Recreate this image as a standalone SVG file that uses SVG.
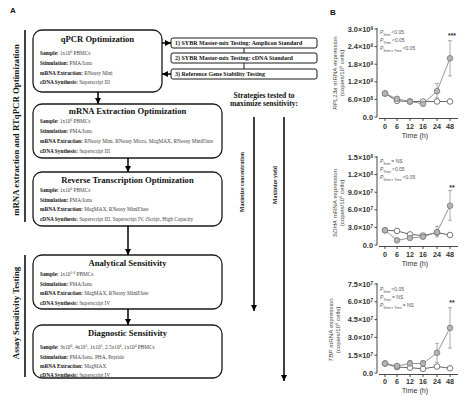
<svg xmlns="http://www.w3.org/2000/svg" width="474" height="402" viewBox="0 0 474 402">
<style>
.box{fill:#fff;stroke:#1a1a1a;stroke-width:1.3}
.sbox{fill:#fff;stroke:#1a1a1a;stroke-width:1}
.title{font-family:"Liberation Serif","Times New Roman",serif;font-weight:bold;font-size:8.6px;text-anchor:middle;fill:#111}
.body{font-family:"Liberation Serif","Times New Roman",serif;font-size:5.3px;fill:#444}
.b{font-weight:bold;fill:#111}
.sup{font-size:3.6px;baseline-shift:super}
.stxt{font-family:"Liberation Serif","Times New Roman",serif;font-weight:bold;font-size:6px;fill:#111}
.side{font-family:"Liberation Serif","Times New Roman",serif;font-weight:bold;font-size:8.8px;text-anchor:middle;fill:#111}
.strat{font-family:"Liberation Serif","Times New Roman",serif;font-weight:bold;font-size:7.6px;text-anchor:middle;fill:#111}
.max{font-family:"Liberation Serif","Times New Roman",serif;font-weight:bold;font-size:5.8px;text-anchor:middle;fill:#111}
.arr{stroke:#000;stroke-width:1.5;fill:none;marker-end:url(#ah)}
.line{stroke:#000;stroke-width:1.5;fill:none}
.panel{font-family:"Liberation Sans",Arial,sans-serif;font-weight:bold;font-size:8px;fill:#111}
.ax{stroke:#333;stroke-width:0.9;fill:none}
.tick{font-family:"Liberation Sans",Arial,sans-serif;font-weight:bold;font-size:7.4px;fill:#333;text-anchor:end}
.tsup{font-size:4.6px;baseline-shift:super}
.xt{font-family:"Liberation Sans",Arial,sans-serif;font-weight:bold;font-size:7.2px;fill:#333;text-anchor:middle}
.xl{font-family:"Liberation Sans",Arial,sans-serif;font-size:7.2px;fill:#333;text-anchor:middle}
.yl{font-family:"Liberation Sans",Arial,sans-serif;font-size:6.2px;fill:#444;text-anchor:middle}
.ps{font-family:"Liberation Sans",Arial,sans-serif;font-size:5px;fill:#555}
.sub{font-size:3.5px;baseline-shift:sub}
.sig{font-family:"Liberation Sans",Arial,sans-serif;font-weight:bold;font-size:7px;fill:#333;text-anchor:middle}
.stim{stroke:#8a8a8a;stroke-width:0.9;fill:none}
.stimp{fill:#b5b5b5;stroke:#777;stroke-width:0.8}
.un{stroke:#555;stroke-width:0.9;fill:none}
.unp{fill:#fff;stroke:#555;stroke-width:0.8}
.err{stroke:#888;stroke-width:0.7;fill:none}
</style>
<defs>
<marker id="ah" markerUnits="userSpaceOnUse" markerWidth="6" markerHeight="6" viewBox="0 0 6 6" refX="6" refY="3" orient="auto">
<path d="M0,0 L6,3 L0,6 z" fill="#000"/>
</marker>
</defs>
<rect width="474" height="402" fill="#fff"/>
<text class="panel" x="10" y="13">A</text>
<text class="panel" x="330" y="15">B</text>

<g id="side-labels">
<line class="line" x1="25" y1="30" x2="25" y2="222"/>
<text class="side" transform="translate(19,130) rotate(-90)">mRNA extraction and RTqPCR Optimization</text>
<line class="line" x1="25" y1="255" x2="25" y2="377"/>
<text class="side" transform="translate(19,313) rotate(-90)">Assay Sensitivity Testing</text>
</g>

<g id="qpcr">
<rect class="box" x="33" y="30" width="129" height="62" rx="9"/>
<text class="title" x="97.5" y="41.5">qPCR Optimization</text>
<text class="body" x="40" y="55"><tspan class="b">Sample: </tspan>1x10<tspan class="sup">6</tspan> PBMCs</text>
<text class="body" x="40" y="65"><tspan class="b">Stimulation: </tspan>PMA/Iono</text>
<text class="body" x="40" y="74.5"><tspan class="b">mRNA Extraction: </tspan>RNeasy Mini</text>
<text class="body" x="40" y="84"><tspan class="b">cDNA Synthesis: </tspan>Superscript III</text>
</g>

<g id="mrna">
<rect class="box" x="33" y="104" width="189" height="54" rx="9"/>
<text class="title" x="127.5" y="114">mRNA Extraction Optimization</text>
<text class="body" x="40" y="123"><tspan class="b">Sample: </tspan>1x10<tspan class="sup">6</tspan> PBMCs</text>
<text class="body" x="40" y="133"><tspan class="b">Stimulation: </tspan>PMA/Iono</text>
<text class="body" x="40" y="142.5"><tspan class="b">mRNA Extraction: </tspan>RNeasy Mini, RNeasy Micro, MagMAX, RNeasy MiniElute</text>
<text class="body" x="40" y="152.5"><tspan class="b">cDNA Synthesis: </tspan>Superscript III</text>
</g>

<g id="rt">
<rect class="box" x="33" y="172" width="189" height="54" rx="9"/>
<text class="title" x="127.5" y="183">Reverse Transcription Optimization</text>
<text class="body" x="40" y="192"><tspan class="b">Sample: </tspan>1x10<tspan class="sup">6</tspan> PBMCs</text>
<text class="body" x="40" y="202"><tspan class="b">Stimulation: </tspan>PMA/Iono</text>
<text class="body" x="40" y="211"><tspan class="b">mRNA Extraction: </tspan>MagMAX, RNeasy MiniElute</text>
<text class="body" x="40" y="221"><tspan class="b">cDNA Synthesis: </tspan>Superscript III, Superscript IV, iScript, High Capacity</text>
</g>

<g id="analytical">
<rect class="box" x="33" y="255" width="189" height="54" rx="9"/>
<text class="title" x="127.5" y="266">Analytical Sensitivity</text>
<text class="body" x="40" y="276"><tspan class="b">Sample: </tspan>1x10<tspan class="sup">1-6</tspan> PBMCs</text>
<text class="body" x="40" y="286"><tspan class="b">Stimulation: </tspan>PMA/Iono</text>
<text class="body" x="40" y="295"><tspan class="b">mRNA Extraction: </tspan>MagMAX, RNeasy MiniElute</text>
<text class="body" x="40" y="305"><tspan class="b">cDNA Synthesis: </tspan>Superscript IV</text>
</g>

<g id="diagnostic">
<rect class="box" x="33" y="325" width="189" height="53" rx="9"/>
<text class="title" x="127.5" y="335.5">Diagnostic Sensitivity</text>
<text class="body" x="40" y="349"><tspan class="b">Sample: </tspan>3x10<tspan class="sup">6</tspan>, 4x10<tspan class="sup">5</tspan>, 1x10<tspan class="sup">5</tspan>, 2.5x10<tspan class="sup">4</tspan>, 1x10<tspan class="sup">4</tspan> PBMCs</text>
<text class="body" x="40" y="358.5"><tspan class="b">Stimulation: </tspan>PMA/Iono, PHA, Peptide</text>
<text class="body" x="40" y="368"><tspan class="b">mRNA Extraction: </tspan>MagMAX</text>
<text class="body" x="40" y="376.5"><tspan class="b">cDNA Synthesis: </tspan>Superscript IV</text>
</g>

<g id="qpcr-tests">
<rect class="sbox" x="171" y="38" width="146" height="10" rx="2"/>
<text class="stxt" x="175" y="45.2">1) SYBR Master-mix Testing: Amplicon Standard</text>
<rect class="sbox" x="171" y="53" width="146" height="10" rx="2"/>
<text class="stxt" x="175" y="60.2">2) SYBR Master-mix Testing: cDNA Standard</text>
<rect class="sbox" x="171" y="69" width="146" height="10" rx="2"/>
<text class="stxt" x="175" y="76.2">3) Reference Gene Stability Testing</text>
</g>

<g id="strategies">
<text class="strat" x="264" y="97.5">Strategies tested to</text>
<text class="strat" x="264" y="105.5">maximize sensitivity:</text>
<text class="max" transform="translate(244,182) rotate(-90)">Maximize concentration</text>
<text class="max" transform="translate(277,185) rotate(-90)">Maximize yield</text>
</g>

<g id="connectors">
<line class="arr" x1="98" y1="92" x2="98" y2="104"/>
<line class="arr" x1="128" y1="158" x2="128" y2="172"/>
<line class="arr" x1="128" y1="226" x2="128" y2="255"/>
<line class="arr" x1="128" y1="309" x2="128" y2="325"/>
<line class="arr" x1="162" y1="43" x2="171" y2="43"/>
<line class="arr" x1="171" y1="74" x2="162" y2="74"/>
<line stroke="#1a1a1a" stroke-width="1" x1="244" y1="48" x2="244" y2="53"/>
<line stroke="#1a1a1a" stroke-width="1" x1="244" y1="63" x2="244" y2="69"/>
<line class="arr" x1="254" y1="117" x2="254" y2="311"/>
<line class="arr" x1="284" y1="117" x2="284" y2="381"/>
</g>

<g id="chart-rpl13a">
<path class="ax" d="M377,28 V117 M374.5,29 H377 M374.5,46.6 H377 M374.5,64.2 H377 M374.5,81.8 H377 M374.5,99.4 H377 M374.5,117 H377"/>
<path class="ax" d="M379,118.5 H458 M385,118.5 V121 M397,118.5 V121 M410,118.5 V121 M423,118.5 V121 M437,118.5 V121 M450,118.5 V121"/>
<text class="tick" x="373" y="31.5">3.0×10<tspan class="tsup">9</tspan></text>
<text class="tick" x="373" y="49">2.4×10<tspan class="tsup">9</tspan></text>
<text class="tick" x="373" y="66.7">1.8×10<tspan class="tsup">9</tspan></text>
<text class="tick" x="373" y="84.3">1.2×10<tspan class="tsup">9</tspan></text>
<text class="tick" x="373" y="101.9">6.0×10<tspan class="tsup">8</tspan></text>
<text class="tick" x="373" y="119.5">0.0</text>
<text class="xt" x="385" y="129">0</text><text class="xt" x="397" y="129">6</text><text class="xt" x="410" y="129">12</text><text class="xt" x="423" y="129">16</text><text class="xt" x="437" y="129">24</text><text class="xt" x="450" y="129">48</text>
<text class="xl" x="415" y="137.5">Time (h)</text>
<text class="yl" transform="translate(337,73) rotate(-90)"><tspan font-style="italic">RPL13a</tspan> mRNA expression</text>
<text class="yl" transform="translate(344,73) rotate(-90)">(copies/10<tspan class="sup">6</tspan> cells)</text>
<text class="ps" x="380" y="34"><tspan font-style="italic">P</tspan><tspan class="sub">Stim</tspan><tspan dx="1" baseline-shift="0">&lt;0.05</tspan></text>
<text class="ps" x="380" y="42"><tspan font-style="italic">P</tspan><tspan class="sub">Time</tspan><tspan dx="1" baseline-shift="0">&lt;0.05</tspan></text>
<text class="ps" x="380" y="50"><tspan font-style="italic">P</tspan><tspan class="sub">Stim x Time</tspan><tspan dx="1" baseline-shift="0">&lt;0.05</tspan></text>
<text class="sig" x="452" y="38">***</text>
<path class="err" d="M450,40.7 V75.9 M448,40.7 H452 M448,75.9 H452 M437,83.3 V97.9 M435,83.3 H439 M435,97.9 H439 M423,100.9 V105.9 M421,100.9 H425 M421,105.9 H425 M397,97 V100.6 M395,97 H399 M395,100.6 H399"/>
<polyline class="un" points="385,93.5 397,100.9 410,101.5 423,101.5 437,101.5 450,101.5"/>
<polyline class="stim" points="385,93.5 397,98.8 410,101.5 423,103.8 437,91.2 450,58.3"/>
<g class="unp"><circle cx="385" cy="93.5" r="2.8"/><circle cx="397" cy="100.9" r="2.8"/><circle cx="410" cy="101.5" r="2.8"/><circle cx="423" cy="101.5" r="2.8"/><circle cx="437" cy="101.5" r="2.8"/><circle cx="450" cy="101.5" r="2.8"/></g>
<g class="stimp"><circle cx="385" cy="93.5" r="2.8"/><circle cx="397" cy="98.8" r="2.8"/><circle cx="410" cy="101.5" r="2.8"/><circle cx="423" cy="103.8" r="2.8"/><circle cx="437" cy="91.2" r="2.8"/><circle cx="450" cy="58.3" r="2.8"/></g>
</g>

<g id="chart-sdha">
<path class="ax" d="M377,156 V245 M374.5,157 H377 M374.5,174.6 H377 M374.5,192.2 H377 M374.5,209.8 H377 M374.5,227.4 H377 M374.5,245 H377"/>
<path class="ax" d="M379,246.5 H458 M385,246.5 V249 M397,246.5 V249 M410,246.5 V249 M423,246.5 V249 M437,246.5 V249 M450,246.5 V249"/>
<text class="tick" x="373" y="159.5">1.5×10<tspan class="tsup">8</tspan></text>
<text class="tick" x="373" y="177.1">1.2×10<tspan class="tsup">8</tspan></text>
<text class="tick" x="373" y="194.7">9.0×10<tspan class="tsup">7</tspan></text>
<text class="tick" x="373" y="212.3">6.0×10<tspan class="tsup">7</tspan></text>
<text class="tick" x="373" y="229.9">3.0×10<tspan class="tsup">7</tspan></text>
<text class="tick" x="373" y="247.5">0.0</text>
<text class="xt" x="385" y="257">0</text><text class="xt" x="397" y="257">6</text><text class="xt" x="410" y="257">12</text><text class="xt" x="423" y="257">16</text><text class="xt" x="437" y="257">24</text><text class="xt" x="450" y="257">48</text>
<text class="xl" x="415" y="265.5">Time (h)</text>
<text class="yl" transform="translate(337,203) rotate(-90)"><tspan font-style="italic">SDHA</tspan> mRNA expression</text>
<text class="yl" transform="translate(344,203) rotate(-90)">(copies/10<tspan class="sup">6</tspan> cells)</text>
<text class="ps" x="380" y="163"><tspan font-style="italic">P</tspan><tspan class="sub">Stim</tspan><tspan dx="1" baseline-shift="0">= NS</tspan></text>
<text class="ps" x="380" y="171"><tspan font-style="italic">P</tspan><tspan class="sub">Time</tspan><tspan dx="1" baseline-shift="0">&lt;0.05</tspan></text>
<text class="ps" x="380" y="179"><tspan font-style="italic">P</tspan><tspan class="sub">Stim x Time</tspan><tspan dx="1" baseline-shift="0">&lt;0.05</tspan></text>
<text class="sig" x="452" y="190">**</text>
<path class="err" d="M450,190.4 V220.3 M448,190.4 H452 M448,220.3 H452 M437,226.2 V236.8 M435,226.2 H439 M435,236.8 H439"/>
<polyline class="un" points="385,230.3 397,230.9 410,234.4 423,235.6 437,232.7 450,235"/>
<polyline class="stim" points="385,230.3 397,240.3 410,238 423,236.8 437,232.1 450,205.7"/>
<g class="unp"><circle cx="385" cy="230.3" r="2.8"/><circle cx="397" cy="230.9" r="2.8"/><circle cx="410" cy="234.4" r="2.8"/><circle cx="423" cy="235.6" r="2.8"/><circle cx="437" cy="232.7" r="2.8"/><circle cx="450" cy="235" r="2.8"/></g>
<g class="stimp"><circle cx="385" cy="230.3" r="2.8"/><circle cx="397" cy="240.3" r="2.8"/><circle cx="410" cy="238" r="2.8"/><circle cx="423" cy="236.8" r="2.8"/><circle cx="437" cy="232.1" r="2.8"/><circle cx="450" cy="205.7" r="2.8"/></g>
</g>

<g id="chart-tbp">
<path class="ax" d="M377,283 V373 M374.5,284 H377 M374.5,301.8 H377 M374.5,319.6 H377 M374.5,337.4 H377 M374.5,355.2 H377 M374.5,373 H377"/>
<path class="ax" d="M379,374.5 H458 M385,374.5 V377 M397,374.5 V377 M410,374.5 V377 M423,374.5 V377 M437,374.5 V377 M450,374.5 V377"/>
<text class="tick" x="373" y="286.5">7.5×10<tspan class="tsup">7</tspan></text>
<text class="tick" x="373" y="304.3">6.0×10<tspan class="tsup">7</tspan></text>
<text class="tick" x="373" y="322.1">4.5×10<tspan class="tsup">7</tspan></text>
<text class="tick" x="373" y="339.9">3.0×10<tspan class="tsup">7</tspan></text>
<text class="tick" x="373" y="357.7">1.5×10<tspan class="tsup">7</tspan></text>
<text class="tick" x="373" y="375.5">0.0</text>
<text class="xt" x="385" y="384">0</text><text class="xt" x="397" y="384">6</text><text class="xt" x="410" y="384">12</text><text class="xt" x="423" y="384">16</text><text class="xt" x="437" y="384">24</text><text class="xt" x="450" y="384">48</text>
<text class="xl" x="415" y="392.5">Time (h)</text>
<text class="yl" transform="translate(333,330) rotate(-90)"><tspan font-style="italic">TBP</tspan> mRNA expression</text>
<text class="yl" transform="translate(340,330) rotate(-90)">(copies/10<tspan class="sup">6</tspan> cells)</text>
<text class="ps" x="380" y="291"><tspan font-style="italic">P</tspan><tspan class="sub">Stim</tspan><tspan dx="1" baseline-shift="0">&lt;0.05</tspan></text>
<text class="ps" x="380" y="299"><tspan font-style="italic">P</tspan><tspan class="sub">Time</tspan><tspan dx="1" baseline-shift="0">= NS</tspan></text>
<text class="ps" x="380" y="307"><tspan font-style="italic">P</tspan><tspan class="sub">Stim x Time</tspan><tspan dx="1" baseline-shift="0">= NS</tspan></text>
<text class="sig" x="452" y="305">**</text>
<path class="err" d="M450,307.7 V348.1 M448,307.7 H452 M448,348.1 H452 M437,343.3 V362.3 M435,343.3 H439 M435,362.3 H439 M410,360.5 V366 M408,360.5 H412 M423,360.5 V366 M421,360.5 H425"/>
<polyline class="un" points="385,363.5 397,367.1 410,367.7 423,368.8 437,366.5 450,368.3"/>
<polyline class="stim" points="385,363.5 397,365.9 410,363.5 423,363.5 437,352.8 450,327.9"/>
<g class="unp"><circle cx="385" cy="363.5" r="2.8"/><circle cx="397" cy="367.1" r="2.8"/><circle cx="410" cy="367.7" r="2.8"/><circle cx="423" cy="368.8" r="2.8"/><circle cx="437" cy="366.5" r="2.8"/><circle cx="450" cy="368.3" r="2.8"/></g>
<g class="stimp"><circle cx="385" cy="363.5" r="2.8"/><circle cx="397" cy="365.9" r="2.8"/><circle cx="410" cy="363.5" r="2.8"/><circle cx="423" cy="363.5" r="2.8"/><circle cx="437" cy="352.8" r="2.8"/><circle cx="450" cy="327.9" r="2.8"/></g>
</g>
</svg>
